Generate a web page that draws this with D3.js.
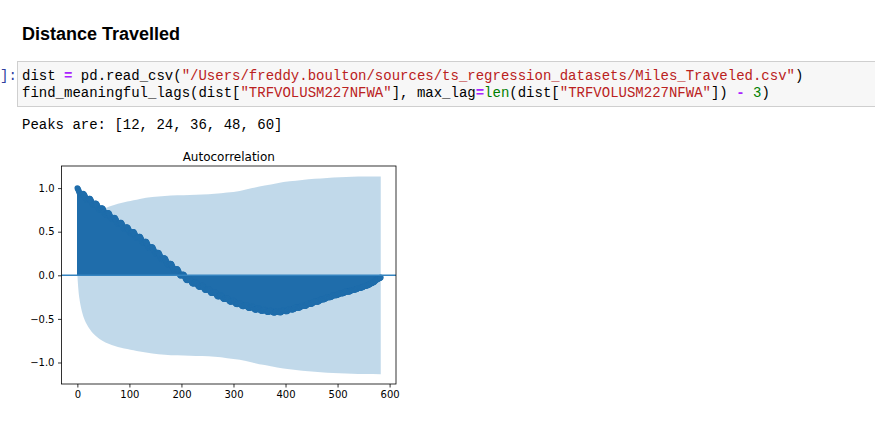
<!DOCTYPE html>
<html>
<head>
<meta charset="utf-8">
<script src="https://cdn.jsdelivr.net/npm/d3@7"></script>
<style>
  html, body { margin: 0; padding: 0; background: #fff; }
  svg text { white-space: pre; }
</style>
</head>
<body>
<svg id="page" width="875" height="429"></svg>
<script>
// autocorrelation at lags 0..583, one row per 12 lags
var acfValues = [
  1.000, .992, .979, .963, .947, .934, .926, .923, .925, .929, .933, .935,
  .932, .925, .913, .899, .884, .872, .865, .863, .866, .872, .877, .880,
  .878, .871, .859, .844, .830, .818, .810, .809, .811, .817, .822, .825,
  .823, .816, .804, .789, .775, .763, .755, .754, .756, .762, .767, .770,
  .768, .761, .749, .734, .720, .708, .700, .699, .701, .707, .712, .715,
  .713, .706, .694, .679, .665, .653, .645, .644, .646, .652, .657, .660,
  .658, .651, .639, .624, .610, .598, .590, .589, .591, .597, .602, .605,
  .603, .596, .584, .570, .555, .544, .537, .535, .538, .543, .549, .552,
  .550, .543, .531, .517, .502, .491, .484, .482, .485, .490, .496, .499,
  .497, .490, .478, .463, .449, .437, .430, .428, .430, .436, .441, .444,
  .442, .435, .423, .408, .393, .381, .374, .371, .374, .379, .385, .387,
  .385, .377, .365, .349, .334, .321, .314, .311, .313, .318, .322, .324,
  .322, .314, .301, .286, .271, .258, .250, .247, .249, .254, .259, .261,
  .258, .250, .238, .222, .207, .194, .187, .184, .186, .191, .196, .198,
  .195, .187, .175, .159, .144, .131, .124, .121, .123, .128, .133, .135,
  .132, .124, .112, .097, .081, .069, .061, .059, .061, .066, .070, .073,
  .070, .062, .050, .035, .019, .007, -.001, -.004, -.001, .004, .008, .011,
  .008, .001, -.010, -.023, -.037, -.048, -.055, -.057, -.055, -.051, -.047, -.045,
  -.047, -.052, -.061, -.071, -.082, -.090, -.095, -.096, -.094, -.089, -.085, -.082,
  -.083, -.088, -.097, -.107, -.118, -.126, -.132, -.133, -.130, -.126, -.121, -.119,
  -.120, -.125, -.134, -.144, -.155, -.163, -.168, -.169, -.167, -.162, -.158, -.155,
  -.156, -.161, -.170, -.180, -.191, -.199, -.204, -.205, -.203, -.198, -.194, -.191,
  -.192, -.197, -.206, -.217, -.228, -.237, -.242, -.243, -.241, -.237, -.233, -.231,
  -.232, -.236, -.244, -.253, -.262, -.269, -.273, -.274, -.272, -.269, -.265, -.263,
  -.264, -.268, -.275, -.284, -.293, -.299, -.304, -.304, -.302, -.298, -.295, -.292,
  -.293, -.297, -.304, -.312, -.321, -.327, -.331, -.332, -.329, -.325, -.321, -.319,
  -.319, -.323, -.329, -.337, -.345, -.352, -.355, -.355, -.353, -.348, -.344, -.341,
  -.341, -.344, -.350, -.358, -.366, -.372, -.375, -.375, -.372, -.367, -.362, -.359,
  -.359, -.363, -.369, -.377, -.385, -.391, -.395, -.395, -.392, -.387, -.383, -.380,
  -.380, -.383, -.388, -.394, -.400, -.405, -.408, -.408, -.405, -.401, -.398, -.395,
  -.395, -.397, -.402, -.408, -.414, -.418, -.421, -.420, -.417, -.413, -.409, -.406,
  -.406, -.408, -.412, -.418, -.423, -.427, -.429, -.428, -.425, -.421, -.416, -.413,
  -.412, -.412, -.415, -.419, -.423, -.426, -.426, -.424, -.419, -.413, -.407, -.402,
  -.400, -.400, -.403, -.407, -.411, -.413, -.414, -.411, -.406, -.400, -.394, -.389,
  -.387, -.386, -.388, -.390, -.392, -.393, -.393, -.390, -.386, -.380, -.375, -.371,
  -.368, -.367, -.368, -.370, -.372, -.373, -.373, -.370, -.365, -.360, -.354, -.350,
  -.347, -.346, -.347, -.349, -.351, -.351, -.351, -.348, -.343, -.337, -.332, -.327,
  -.324, -.323, -.324, -.325, -.327, -.328, -.327, -.323, -.319, -.313, -.307, -.302,
  -.299, -.298, -.299, -.301, -.303, -.304, -.304, -.301, -.296, -.291, -.285, -.281,
  -.278, -.277, -.276, -.277, -.277, -.277, -.276, -.273, -.269, -.264, -.260, -.256,
  -.253, -.252, -.252, -.252, -.253, -.253, -.252, -.249, -.245, -.241, -.236, -.233,
  -.230, -.229, -.229, -.230, -.230, -.230, -.229, -.227, -.223, -.219, -.214, -.211,
  -.208, -.207, -.207, -.208, -.208, -.208, -.207, -.205, -.201, -.197, -.192, -.189,
  -.186, -.185, -.186, -.187, -.188, -.188, -.188, -.185, -.182, -.178, -.174, -.171,
  -.169, -.168, -.167, -.167, -.166, -.165, -.164, -.162, -.159, -.156, -.152, -.149,
  -.147, -.145, -.145, -.144, -.144, -.143, -.141, -.139, -.136, -.132, -.129, -.125,
  -.123, -.121, -.120, -.119, -.118, -.117, -.115, -.112, -.109, -.105, -.101, -.098,
  -.095, -.091, -.088, -.086, -.083, -.080, -.076, -.071, -.066, -.061, -.055, -.050,
  -.045, -.042, -.039, -.037, -.035, -.032, -.029, -.024
];

// half-width of the confidence band, read at these lags
var bandLags = [0, 1, 2, 4, 6, 9, 12, 18, 24, 36, 48, 60, 72, 84, 96, 108, 120, 144, 168, 192,
  216, 240, 264, 288, 312, 336, 360, 384, 408, 432, 456, 480, 504, 528, 552, 583];
var bandWidths = [0, .09, .17, .27, .34, .42, .48, .56, .62, .70, .75, .785, .81, .83, .845, .86, .875, .897, .91, .918,
  .922, .926, .935, .95, .968, 1.0, 1.03, 1.057, 1.078, 1.094, 1.107, 1.117, 1.124, 1.129, 1.132, 1.134];

var xTicks = [0, 100, 200, 300, 400, 500, 600];
var yTicks = [-1.0, -0.5, 0.0, 0.5, 1.0];

// notebook cell text: [text, colour, bold]
var codeLine1 = [
  ["dist ", "#000"], ["=", "#aa22ff", true], [" pd.read_csv(", "#000"],
  ["\"/Users/freddy.boulton/sources/ts_regression_datasets/Miles_Traveled.csv\"", "#ba2121"], [")", "#000"]
];
var codeLine2 = [
  ["find_meaningful_lags(dist[", "#000"], ["\"TRFVOLUSM227NFWA\"", "#ba2121"], ["], max_lag", "#000"],
  ["=", "#aa22ff", true], ["len", "#008000"], ["(dist[", "#000"], ["\"TRFVOLUSM227NFWA\"", "#ba2121"],
  ["]) ", "#000"], ["-", "#aa22ff", true], [" ", "#000"], ["3", "#008000"], [")", "#000"]
];
var outputText = "Peaks are: [12, 24, 36, 48, 60]";

var svg = d3.select("#page");
var mono = "'Liberation Mono', 'DejaVu Sans Mono', monospace";

svg.append("text")
  .attr("x", 22).attr("y", 40)
  .attr("font-family", "'Liberation Sans', Arial, sans-serif")
  .attr("font-weight", "bold")
  .attr("font-size", 18)
  .text("Distance Travelled");

svg.append("rect")
  .attr("x", 17.5).attr("y", 61.5)
  .attr("width", 870).attr("height", 45)
  .attr("fill", "#f7f7f7")
  .attr("stroke", "#cfcfcf");

svg.append("text")
  .attr("x", 0).attr("y", 80)
  .attr("font-family", mono).attr("font-size", 14)
  .attr("fill", "#303f9f")
  .text("]:");

function codeText(tokens, ty) {
  var t = svg.append("text")
    .attr("x", 22).attr("y", ty)
    .attr("font-family", mono).attr("font-size", 14);
  tokens.forEach(function(tk) {
    t.append("tspan")
      .attr("fill", tk[1])
      .attr("font-weight", tk[2] ? "bold" : "normal")
      .text(tk[0]);
  });
}
codeText(codeLine1, 80);
codeText(codeLine2, 97);

svg.append("text")
  .attr("x", 22).attr("y", 129)
  .attr("font-family", mono).attr("font-size", 14)
  .text(outputText);

// ---- autocorrelation plot ----
var plotLeft = 61.5, plotRight = 396, plotTop = 166, plotBottom = 384;
var x = d3.scaleLinear().domain([-30.5, 612.3]).range([plotLeft, plotRight]);
var y = d3.scaleLinear().domain([-1.2466, 1.2535]).range([plotBottom, plotTop]);
var blue = "#1f77b4";
var stemBlue = "#1f6dab";

var plot = svg.append("g");

var band = d3.area()
  .x(function(d, i) { return x(bandLags[i]); })
  .y0(function(d) { return y(-d); })
  .y1(function(d) { return y(d); })
  .curve(d3.curveMonotoneX);

plot.append("path")
  .datum(bandWidths)
  .attr("d", band)
  .attr("fill", blue)
  .attr("fill-opacity", 0.28);

plot.append("g")
  .attr("shape-rendering", "crispEdges")
  .selectAll("line")
  .data(acfValues)
  .enter().append("line")
  .attr("x1", function(d, i) { return x(i); })
  .attr("x2", function(d, i) { return x(i); })
  .attr("y1", y(0))
  .attr("y2", function(d) { return y(d); })
  .attr("stroke", stemBlue)
  .attr("stroke-width", 1);

plot.append("g")
  .selectAll("circle")
  .data(acfValues)
  .enter().append("circle")
  .attr("cx", function(d, i) { return x(i); })
  .attr("cy", function(d) { return y(d); })
  .attr("r", 2.9)
  .attr("fill", stemBlue);

plot.append("line")
  .attr("x1", plotLeft).attr("x2", plotRight)
  .attr("y1", y(0)).attr("y2", y(0))
  .attr("stroke", "#3584c0")
  .attr("stroke-width", 1.6);

var fmt = function(d) { return d3.format(".1f")(d).replace("-", "\u2212"); };

var xAxis = svg.append("g")
  .attr("transform", "translate(0," + plotBottom + ")")
  .call(d3.axisBottom(x).tickValues(xTicks).tickSize(3.5).tickPadding(3.5).tickFormat(d3.format("d")));
var yAxis = svg.append("g")
  .attr("transform", "translate(" + plotLeft + ",0)")
  .call(d3.axisLeft(y).tickValues(yTicks).tickSize(3.5).tickPadding(3.5).tickFormat(fmt));

[xAxis, yAxis].forEach(function(ax) {
  ax.select(".domain").remove();
  ax.selectAll("line").attr("stroke", "#000").attr("stroke-width", 0.8);
  ax.selectAll("text")
    .attr("fill", "#000")
    .attr("font-family", "'DejaVu Sans', sans-serif")
    .attr("font-size", 10);
});

svg.append("rect")
  .attr("x", plotLeft).attr("y", plotTop)
  .attr("width", plotRight - plotLeft).attr("height", plotBottom - plotTop)
  .attr("fill", "none")
  .attr("stroke", "#000")
  .attr("stroke-width", 0.8);

svg.append("text")
  .attr("x", (plotLeft + plotRight) / 2).attr("y", 161)
  .attr("text-anchor", "middle")
  .attr("font-family", "'DejaVu Sans', sans-serif")
  .attr("font-size", 12)
  .text("Autocorrelation");
</script>
</body>
</html>
